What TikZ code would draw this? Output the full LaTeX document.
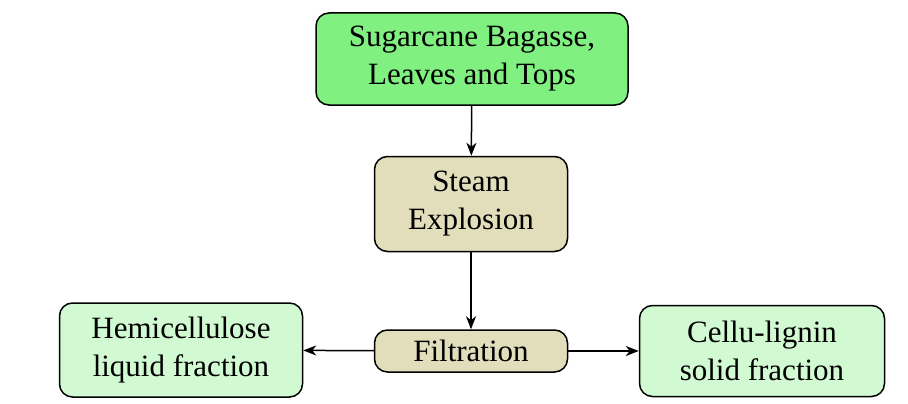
\documentclass[tikz,border=0pt]{standalone}
\usepackage{fontspec}
\setmainfont{Liberation Serif}
\usetikzlibrary{arrows.meta}
\definecolor{g1}{HTML}{80F080}
\definecolor{g2}{HTML}{D2FAD2}
\definecolor{tan}{HTML}{E2DDBA}
\begin{document}
\begin{tikzpicture}[x=1pt,y=-1pt,
 box/.style={draw,line width=1.5pt,rounded corners=13pt,align=center,inner sep=0pt,font=\fontsize{31}{38}\selectfont},
 arr/.style={line width=1.5pt,-{Stealth[length=13pt,width=10pt,inset=4pt]}}]
\useasboundingbox (0,0) rectangle (908,404);
\node[box,fill=g1,minimum width=312pt,minimum height=92pt] (top) at (472,59) {Sugarcane Bagasse,\\Leaves and Tops};
\node[box,fill=tan,minimum width=193pt,minimum height=95pt] (steam) at (471,204) {Steam\\Explosion};
\node[box,fill=tan,minimum width=193pt,minimum height=42pt] (filt) at (471,351) {Filtration};
\node[box,fill=g2,minimum width=243pt,minimum height=94pt] (hemi) at (181,350) {Hemicellulose\\liquid fraction};
\node[box,fill=g2,minimum width=245pt,minimum height=91pt] (cell) at (762,351) {Cellu-lignin\\solid fraction};
\draw[arr] (top) -- (steam);
\draw[arr] (steam) -- (filt);
\draw[arr] (filt) -- (hemi);
\draw[arr] (filt) -- (cell);
\end{tikzpicture}
\end{document}
